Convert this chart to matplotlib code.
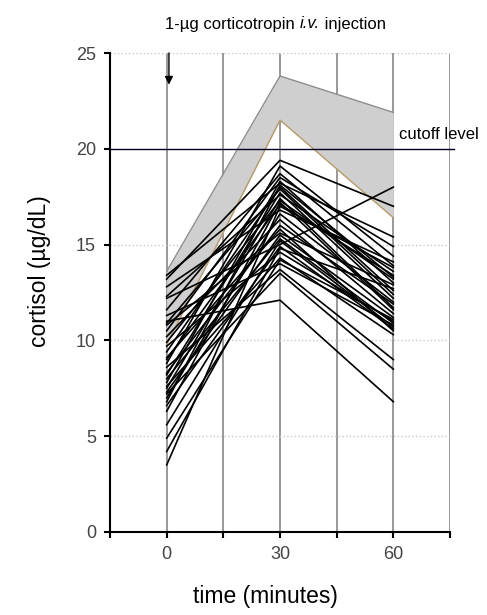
import matplotlib
matplotlib.use("Agg")
import matplotlib.pyplot as plt

plt.rcParams['font.family'] = ['Liberation Sans', 'DejaVu Sans']

# sampling times (minutes)
times = [0, 30, 60]

# individual cortisol values (ug/dL) at 0, 30 and 60 min
cortisol_0 = [13.4, 13.2, 12.8, 12.3, 12.2, 11.6, 11.3, 11.0, 10.9, 10.8,
              10.5, 10.2, 9.9, 9.7, 9.4, 9.1, 9.0, 8.8, 8.6, 8.3,
              8.2, 8.0, 7.8, 7.6, 7.5, 7.3, 7.2, 7.0, 6.8, 6.6,
              6.3, 5.6, 4.9, 4.2, 3.5]
cortisol_30 = [18.2, 19.4, 16.8, 17.6, 15.0, 18.7, 14.0, 12.1, 17.9, 15.6,
               18.5, 16.3, 17.3, 14.6, 18.0, 15.8, 17.1, 19.1, 13.7, 16.0,
               17.7, 15.3, 18.3, 14.3, 17.4, 15.5, 13.5, 16.6, 18.1, 14.9,
               17.2, 15.2, 14.2, 14.8, 17.0]
cortisol_60 = [15.4, 17.0, 14.1, 13.6, 18.0, 13.9, 10.8, 6.8, 12.4, 12.9,
               14.9, 11.4, 13.2, 11.0, 12.6, 10.5, 13.4, 14.4, 9.0, 11.9,
               12.2, 10.9, 13.0, 10.3, 11.7, 11.2, 8.5, 12.0, 13.3, 10.6,
               11.6, 10.7, 11.1, 12.7, 13.8]

# normal response band
band_upper = [13.6, 23.8, 21.9]
band_lower = [9.8, 21.5, 16.4]

cutoff = 20

fig = plt.figure(figsize=(4.87, 6.15), dpi=100)
ax = fig.add_axes([110/487, 1 - 532/615, 340/487, 479/615])

ax.fill_between(times, band_lower, band_upper, color='#cfcfcf', zorder=1, linewidth=0)
ax.plot(times, band_upper, color='#8c8c8c', lw=1, zorder=2)
ax.plot(times, band_lower, color='#b89a6a', lw=1, zorder=2)

for i in range(len(cortisol_0)):
    ax.plot(times, [cortisol_0[i], cortisol_30[i], cortisol_60[i]],
            color='black', lw=1.2, zorder=4)

# grid
for x in [0, 15, 30, 45, 60, 75]:
    ax.axvline(x, color='#999999', lw=1.4, zorder=0)
for y in [5, 10, 15, 25]:
    ax.axhline(y, color='#c8c8c8', lw=1, ls=':', zorder=0)
ax.plot([-15, 76], [cutoff, cutoff], color='#000022', lw=1, zorder=3, clip_on=False)

ax.set_xlim(-15, 75)
ax.set_ylim(0, 25)
ax.set_xticks([-15, 0, 15, 30, 45, 60, 75])
ax.set_xticklabels(['', '0', '', '30', '', '60', ''])
ax.set_yticks([0, 5, 10, 15, 20, 25])
ax.tick_params(direction='out', length=4, width=1.5, labelsize=13,
               labelcolor='#444444', pad=6)
for s in ['top', 'right']:
    ax.spines[s].set_visible(False)
for s in ['left', 'bottom']:
    ax.spines[s].set_linewidth(1.5)

ax.set_xlabel('time (minutes)', fontsize=16.5)
ax.xaxis.set_label_coords((265 - 110) / 340, -(597 - 532) / 479)
ax.xaxis.label.set_va('center')
ax.set_ylabel('cortisol (\u00b5g/dL)', fontsize=16.5)
ax.yaxis.set_label_coords(-(110 - 40) / 340, (532 - 271) / 479)
ax.yaxis.label.set_va('center')

ax.text(61.5, 20.75, 'cutoff level', fontsize=12, ha='left', va='center')
ax.annotate('', xy=(0.6, 23.2), xytext=(0.6, 25.15),
            arrowprops=dict(arrowstyle='-|>', color='black', lw=1,
                            mutation_scale=12),
            annotation_clip=False)

# title built from plain and italic pieces
fig.canvas.draw()
r = fig.canvas.get_renderer()
parts = [('1-\u00b5g corticotropin ', 'normal'), ('i.v.', 'italic'), (' injection', 'normal')]
x0 = 165
for txt, style in parts:
    t = fig.text(x0 / 487, 1 - 24 / 615, txt, fontsize=12, style=style,
                 ha='left', va='center')
    x0 += t.get_window_extent(renderer=r).width

fig.savefig('out.png', dpi=100)
